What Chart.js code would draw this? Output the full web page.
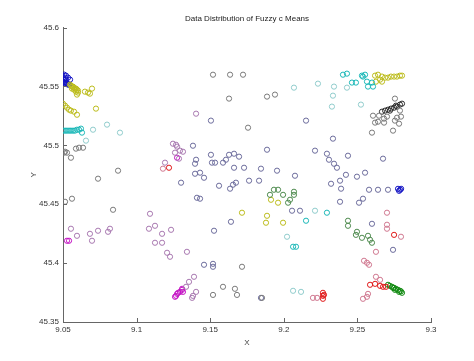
<!DOCTYPE html>
<html>
<head>
<meta charset="utf-8">
<script src="https://cdn.jsdelivr.net/npm/chart.js@4"></script>
<style>
  body { margin: 0; background: #fff; }
  #wrap { width: 474px; height: 361px; }
</style>
</head>
<body>
<div id="wrap"><canvas id="scatterChart" width="474" height="361"></canvas></div>
<script>
var chartTitle = "Data Distribution of Fuzzy c Means";
var xTicks = [9.05, 9.1, 9.15, 9.2, 9.25, 9.3];
var yTicks = [45.35, 45.4, 45.45, 45.5, 45.55, 45.6];

var grayPts = [
  [9.2755,45.5397],[9.2606,45.5252],[9.2647,45.5252],[9.2681,45.5227],[9.2640,45.5201],[9.2701,45.5244],
  [9.2769,45.5235],[9.2796,45.5244],[9.2789,45.5295],[9.2620,45.5193],[9.2681,45.5193],[9.2755,45.5210],
  [9.2783,45.5184],[9.2599,45.5108],[9.2742,45.5125],
  [9.0514,45.4946],[9.0527,45.4938],[9.0507,45.4938],[9.0588,45.4972],[9.0609,45.4980],[9.0636,45.4980],
  [9.0554,45.4895],[9.0738,45.4717],[9.0874,45.4785],[9.0514,45.4521],[9.0561,45.4547],[9.0840,45.4453],
  [9.1519,45.5600],[9.1635,45.5600],[9.1723,45.5600],[9.1628,45.5397],[9.1886,45.5414],[9.1940,45.5431],
  [9.1757,45.5150],[9.1852,45.3705],[9.1519,45.3730],[9.1587,45.3799],[9.1668,45.3782],[9.1682,45.3730],
  [9.1716,45.3969]
];
var slatePts = [
  [9.1505,45.5210],[9.2151,45.5210],[9.1886,45.4963],[9.2212,45.4955],[9.1383,45.4997],[9.1397,45.4844],
  [9.1404,45.4878],[9.1397,45.4759],[9.1431,45.4768],[9.1458,45.4725],[9.1505,45.4920],[9.1512,45.4853],
  [9.1533,45.4853],[9.1587,45.4853],[9.1607,45.4878],[9.1628,45.4920],[9.1662,45.4929],[9.1696,45.4904],
  [9.1662,45.4810],[9.1730,45.4810],[9.1764,45.4700],[9.1832,45.4700],[9.1845,45.4802],[9.1954,45.4785],
  [9.1560,45.4657],[9.1635,45.4632],[9.1655,45.4666],[9.1675,45.4683],[9.1410,45.4555],[9.1431,45.4547],
  [9.1302,45.4683],[9.1641,45.4351],[9.1526,45.4275],[9.1458,45.3986],[9.1519,45.3994],[9.1519,45.3969],
  [9.1845,45.3705],[9.2334,45.5057],[9.2293,45.4929],[9.2307,45.4878],[9.2341,45.4844],[9.2361,45.4810],
  [9.2436,45.4912],[9.2422,45.4750],[9.2382,45.4700],[9.2321,45.4674],[9.2389,45.4632],[9.2382,45.4521],
  [9.2674,45.4887],[9.2497,45.4734],[9.2552,45.4768],[9.2579,45.4623],[9.2640,45.4623],[9.2708,45.4623],
  [9.2538,45.4547],[9.2511,45.4513],[9.2599,45.4334],[9.2742,45.4113],[9.2076,45.4742],[9.2110,45.4445],
  [9.2056,45.4445]
];
var mauvePts = [
  [9.1404,45.5269],[9.1247,45.5014],[9.1268,45.5005],[9.1275,45.4989],[9.1261,45.4938],[9.1295,45.4955],
  [9.1315,45.4946],[9.1288,45.4887],[9.1193,45.4853],[9.1091,45.4419],[9.1125,45.4317],[9.1173,45.4249],
  [9.1234,45.4283],[9.1125,45.4173],[9.1173,45.4173],[9.1207,45.4088],[9.1227,45.4054],[9.1342,45.4096],
  [9.1084,45.4292],[9.0554,45.4292],[9.0595,45.4232],[9.0683,45.4249],[9.0697,45.4190],[9.0738,45.4275],
  [9.0806,45.4266],[9.0819,45.4292],[9.1390,45.3884],[9.1356,45.3841],[9.1336,45.3799],[9.1404,45.3756],
  [9.1383,45.3722],[9.1377,45.3705]
];
var magentaPts = [
  [9.1261,45.3714],[9.1275,45.3739],[9.1282,45.3748],[9.1295,45.3756],[9.1309,45.3773],[9.1315,45.3756],
  [9.1309,45.3782],[9.1268,45.3722],[9.1275,45.4895],[9.0527,45.4190],[9.0541,45.4190]
];
var pinkPts = [
  [9.2701,45.4428],[9.2701,45.4326],[9.2701,45.4292],[9.2796,45.4224],[9.2198,45.3705],[9.2226,45.3705],
  [9.2538,45.3697],[9.2565,45.3714],[9.2545,45.4020],[9.2565,45.4003],[9.2626,45.4096],[9.2579,45.3986],
  [9.2626,45.3884],[9.2654,45.3858],[9.2572,45.3739],[9.1179,45.4802]
];
var redPts = [
  [9.2586,45.3816],[9.2620,45.3824],[9.2654,45.3807],[9.2674,45.3799],[9.2694,45.3799],[9.2749,45.4240],
  [9.1220,45.4810],[9.2266,45.3748],[9.2266,45.3722],[9.2266,45.3697],[9.2273,45.3731]
];
var lightCyanPts = [
  [9.0704,45.5133],[9.0799,45.5176],[9.0887,45.5108],[9.0656,45.5040],[9.2069,45.5490],[9.2232,45.5524],
  [9.2341,45.5499],[9.2334,45.5422],[9.2327,45.5329],[9.2429,45.5490],[9.2524,45.5346],[9.2212,45.4445],
  [9.2022,45.4224],[9.2063,45.3765],[9.2117,45.3756]
];
var cyanPts = [
  [9.0500,45.5125],[9.0514,45.5125],[9.0527,45.5125],[9.0541,45.5125],[9.0554,45.5125],[9.0568,45.5125],
  [9.0581,45.5125],[9.0595,45.5133],[9.0609,45.5133],[9.0622,45.5142],[9.0629,45.5108],
  [9.2402,45.5600],[9.2429,45.5609],[9.2531,45.5592],[9.2552,45.5600],[9.2538,45.5584],[9.2463,45.5533],
  [9.2490,45.5533],[9.2565,45.5541],[9.2572,45.5499],[9.2599,45.5533],[9.2606,45.5499],
  [9.2151,45.4360],[9.2293,45.4428],[9.2083,45.4139],[9.2063,45.4139]
];
var olivePts = [
  [9.0548,45.5516],[9.0554,45.5507],[9.0561,45.5499],[9.0568,45.5499],[9.0575,45.5490],[9.0581,45.5482],
  [9.0588,45.5482],[9.0595,45.5473],[9.0602,45.5465],[9.0602,45.5448],[9.0595,45.5431],[9.0588,45.5456],
  [9.0575,45.5473],[9.0561,45.5482],
  [9.0649,45.5456],[9.0670,45.5448],[9.0683,45.5439],[9.0697,45.5482],
  [9.0500,45.5354],[9.0514,45.5337],[9.0527,45.5320],[9.0541,45.5303],[9.0554,45.5295],[9.0575,45.5286],
  [9.0595,45.5260],[9.0724,45.5312],
  [9.2620,45.5592],[9.2640,45.5600],[9.2667,45.5584],[9.2688,45.5575],[9.2708,45.5575],[9.2728,45.5584],
  [9.2749,45.5584],[9.2769,45.5584],[9.2789,45.5592],[9.2803,45.5592],[9.2667,45.5541],[9.2626,45.5541],
  [9.2654,45.5558],
  [9.1913,45.4538],[9.1961,45.4513],[9.1716,45.4428],[9.1886,45.4402],[9.1879,45.4343],[9.1995,45.4343]
];
var darkGrayPts = [
  [9.2667,45.5286],[9.2688,45.5295],[9.2708,45.5303],[9.2728,45.5312],[9.2749,45.5320],[9.2769,45.5329],
  [9.2789,45.5346],[9.2803,45.5354],[9.2721,45.5295],[9.2762,45.5337]
];
var darkGreenPts = [
  [9.2497,45.4266],[9.2490,45.4240],[9.2531,45.4215],[9.2572,45.4232],[9.2586,45.4198],[9.2599,45.4173],
  [9.2436,45.4360],[9.2436,45.4317],[9.1933,45.4623],[9.1961,45.4623],[9.1906,45.4580],[9.1995,45.4580],
  [9.2069,45.4606],[9.2069,45.4580],[9.2042,45.4538],[9.2029,45.4513]
];
var greenPts = [
  [9.2708,45.3816],[9.2721,45.3807],[9.2735,45.3799],[9.2749,45.3790],[9.2762,45.3782],[9.2776,45.3773],
  [9.2789,45.3765],[9.2803,45.3748],[9.2755,45.3773],[9.2783,45.3756],[9.2742,45.3790],[9.2796,45.3760]
];
var bluePts = [
  [9.0493,45.5592],[9.0507,45.5601],[9.0520,45.5592],[9.0534,45.5575],[9.0548,45.5558],[9.0500,45.5541],
  [9.0507,45.5533],[9.0514,45.5524],[9.0520,45.5533],[9.0527,45.5524],[9.0534,45.5516],[9.0541,45.5516],
  [9.0507,45.5558],[9.0520,45.5558],[9.0514,45.5575],
  [9.2776,45.4631],[9.2790,45.4623],[9.2783,45.4614],[9.2797,45.4631]
];

function toXY(arr) {
  return arr.map(function(p) { return {x: p[0], y: p[1]}; });
}
function series(arr, color) {
  return {
    data: toXY(arr),
    borderColor: color,
    backgroundColor: 'rgba(0,0,0,0)',
    pointRadius: 2.6,
    pointBorderWidth: 1,
    pointHoverRadius: 2.6
  };
}

// inward tick marks, like the matlab axes
var tickMarks = {
  id: 'tickMarks',
  afterDraw: function(chart) {
    var ctx = chart.ctx, xs = chart.scales.x, ys = chart.scales.y;
    ctx.save();
    ctx.strokeStyle = '#666';
    ctx.lineWidth = 1;
    ctx.beginPath();
    xTicks.forEach(function(v) {
      var px = Math.round(xs.getPixelForValue(v)) + 0.5;
      ctx.moveTo(px, ys.bottom);
      ctx.lineTo(px, ys.bottom - 4);
    });
    yTicks.forEach(function(v) {
      var py = Math.round(ys.getPixelForValue(v)) + 0.5;
      ctx.moveTo(xs.left, py);
      ctx.lineTo(xs.left + 4, py);
    });
    ctx.stroke();
    ctx.restore();
  }
};

var tickFont = {family: 'Arial, "Liberation Sans", sans-serif', size: 8};

new Chart(document.getElementById('scatterChart'), {
  type: 'scatter',
  data: {
    datasets: [
      series(grayPts, '#7a7a7a'),
      series(slatePts, '#6c6c9c'),
      series(mauvePts, '#a878b0'),
      series(pinkPts, '#d07890'),
      series(lightCyanPts, '#90cccc'),
      series(darkGreenPts, '#4e8a4e'),
      series(magentaPts, '#c414c4'),
      series(redPts, '#e01818'),
      series(cyanPts, '#1cb8b8'),
      series(olivePts, '#bcbc1c'),
      series(darkGrayPts, '#2c2c2c'),
      series(greenPts, '#128a12'),
      series(bluePts, '#1414c4')
    ]
  },
  options: {
    responsive: false,
    animation: false,
    layout: { padding: { left: 0, right: 43, top: 0, bottom: 0 } },
    plugins: {
      legend: { display: false },
      tooltip: { enabled: false },
      title: {
        display: true,
        text: chartTitle,
        fullSize: false,
        color: '#222',
        font: {family: 'Arial, "Liberation Sans", sans-serif', size: 8, weight: 'normal'},
        padding: { top: 14, bottom: 4 }
      }
    },
    scales: {
      x: {
        type: 'linear',
        min: 9.05,
        max: 9.3,
        afterBuildTicks: function(scale) { scale.ticks = xTicks.map(function(v) { return {value: v}; }); },
        afterFit: function(scale) { scale.height = 39; },
        grid: { display: false, drawTicks: false },
        border: { display: true, color: '#666', width: 1 },
        ticks: {
          color: '#333', font: tickFont, padding: 3, maxRotation: 0, autoSkip: false,
          callback: function(v) { return String(Number(v.toFixed(2))); }
        },
        title: { display: true, text: 'X', color: '#444', font: tickFont, padding: { top: 0, bottom: 13 } }
      },
      y: {
        type: 'linear',
        min: 45.35,
        max: 45.6,
        afterBuildTicks: function(scale) { scale.ticks = yTicks.map(function(v) { return {value: v}; }); },
        afterFit: function(scale) { scale.width = 63; },
        grid: { display: false, drawTicks: false },
        border: { display: true, color: '#666', width: 1 },
        ticks: {
          color: '#333', font: tickFont, padding: 4, autoSkip: false,
          callback: function(v) { return String(Number(v.toFixed(2))); }
        },
        title: { display: true, text: 'Y', color: '#444', font: tickFont, padding: { top: 29, bottom: 0 } }
      }
    }
  },
  plugins: [tickMarks]
});
</script>
</body>
</html>
